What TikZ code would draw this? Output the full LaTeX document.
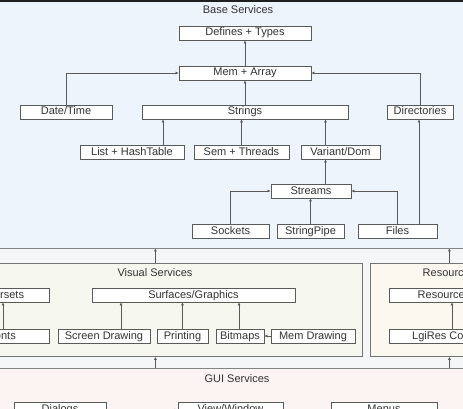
\documentclass[tikz,border=0pt]{standalone}
\usepackage{fontspec}
\setmainfont{Liberation Sans}
\usetikzlibrary{arrows.meta}
\definecolor{basebg}{HTML}{EEF4FB}
\definecolor{midbg}{HTML}{F4F6F7}
\definecolor{guibg}{HTML}{FCF3F3}
\definecolor{visbg}{HTML}{F6F8EF}
\definecolor{resbg}{HTML}{FBF9EF}
\definecolor{edge}{HTML}{5A5A5A}
\definecolor{txt}{HTML}{333333}
\tikzset{
  band/.style={draw=none, inner sep=0pt, anchor=north west},
  bx/.style={draw=edge, fill=white, line width=0.8pt, inner sep=0pt, minimum height=14pt,
    text height=8pt, text depth=2pt, font=\fontsize{11}{13}\selectfont, text=txt},
  grp/.style={draw=edge!85, line width=0.8pt, inner sep=0pt},
  ttl/.style={font=\fontsize{11}{13}\selectfont, text=txt, inner sep=0pt},
  arr/.style={draw=edge, line width=0.8pt, -{Latex[length=3pt,width=3pt]}},
  sep/.style={draw=edge!75, line width=0.9pt}
}
\begin{document}
\begin{tikzpicture}[x=1pt,y=-1pt]
\useasboundingbox (0,0) rectangle (463,409);
\begin{scope}
\clip (0,0) rectangle (463,409);
% bands
\node[band, fill=basebg, minimum width=463pt, minimum height=246pt] (base) at (0,2) {};
\node[band, fill=midbg, minimum width=463pt, minimum height=120pt] (mid) at (0,248) {};
\node[band, fill=guibg, minimum width=463pt, minimum height=41pt] (gui) at (0,368) {};
\fill[black!88] (0,0) rectangle (463,2);
\draw[sep] (base.south west) -- (base.south east);
\draw[sep] (gui.north west) -- (gui.north east);

% Base services
\node[ttl] (tbase) at (238,10) {Base Services};
\node[bx, minimum width=132pt] (def) at (245,33) {Defines + Types};
\node[bx, minimum width=132pt] (mem) at (245,73) {Mem + Array};
\node[bx, minimum width=92pt] (date) at (66,112) {Date/Time};
\node[bx, minimum width=206pt] (str) at (245,112) {Strings};
\node[bx, minimum width=66pt] (dir) at (420,112) {Directories};
\node[bx, minimum width=104pt] (list) at (132,152) {List + HashTable};
\node[bx, minimum width=95pt] (sem) at (241.5,152) {Sem + Threads};
\node[bx, minimum width=79pt] (var) at (340.5,152) {Variant/Dom};
\node[bx, minimum width=80pt] (streams) at (311,191) {Streams};
\node[bx, minimum width=77pt] (sock) at (230.5,231) {Sockets};
\node[bx, minimum width=67pt] (pipe) at (310.5,231) {StringPipe};
\node[bx, minimum width=79pt] (files) at (397.5,231) {Files};

\draw[arr] (mem.north) -- (def.south);
\draw[arr] (str.north) -- (mem.south);
\draw[arr] (date.north) |- (mem.west);
\draw[arr] (dir.north) |- (mem.east);
\draw[arr] ([xshift=31pt]list.north) -- ([xshift=31pt]list.north |- str.south);
\draw[arr] (sem.north) -- (sem.north |- str.south);
\draw[arr] ([xshift=-15pt]var.north) -- ([xshift=-15pt]var.north |- str.south);
\draw[arr] ([xshift=14.5pt]streams.north) -- ([xshift=14.5pt]streams.north |- var.south);
\draw[arr] (sock.north) |- (streams.west);
\draw[arr] (pipe.north) -- (pipe.north |- streams.south);
\draw[arr] (files.north) |- (streams.east);
\draw[arr] ([xshift=21.5pt]files.north) -- ([xshift=21.5pt]files.north |- dir.south);

% Visual services
\node[grp, fill=visbg, minimum width=367pt, minimum height=93pt, anchor=north west] (vis) at (-5,263) {};
\node[ttl] (tvis) at (155,273) {Visual Services};
\node[bx, minimum width=94pt] (chars) at (2,295) {Charsets};
\node[bx, minimum width=94pt] (fonts) at (2,336) {Fonts};
\node[bx, minimum width=203pt] (surf) at (193.5,295) {Surfaces/Graphics};
\node[bx, minimum width=92pt] (scr) at (104,336) {Screen Drawing};
\node[bx, minimum width=51pt] (prt) at (182.5,336) {Printing};
\node[bx, minimum width=48pt] (bmp) at (240,336) {Bitmaps};
\node[bx, minimum width=84pt] (memd) at (313,336) {Mem Drawing};
\draw[arr] ([xshift=1pt]fonts.north) -- ([xshift=1pt]chars.south);
\draw[arr] ([xshift=17pt]scr.north) -- ([xshift=17pt]scr.north |- surf.south);
\draw[arr] (prt.north) -- (prt.north |- surf.south);
\draw[arr] ([xshift=-1pt]bmp.north) -- ([xshift=-1pt]bmp.north |- surf.south);
\draw[arr] (memd.west) -- (bmp.east);

% Resources
\node[grp, fill=resbg, minimum width=100pt, minimum height=93pt, anchor=north west] (rsv) at (370,263) {};
\node[ttl] (trsv) at (449,273) {Resources};
\node[bx, minimum width=110pt] (res) at (444,295) {Resources};
\node[bx, minimum width=110pt] (lgi) at (444,336) {LgiRes Code};
\draw[arr] ([xshift=8pt]lgi.north) -- ([xshift=8pt]res.south);

% layer arrows
\draw[arr] ([xshift=-23.5pt]vis.north) -- ([xshift=-23.5pt]vis.north |- base.south);
\draw[arr] ([xshift=29pt]rsv.north) -- ([xshift=29pt]rsv.north |- base.south);
\draw[arr] ([xshift=-23.5pt]vis.south |- gui.north) -- ([xshift=-23.5pt]vis.south);
\draw[arr] ([xshift=29pt]rsv.south |- gui.north) -- ([xshift=29pt]rsv.south);

% GUI services
\node[ttl] (tgui) at (237,379) {GUI Services};
\node[bx, minimum width=92pt] (dlg) at (60,409) {Dialogs};
\node[bx, minimum width=105pt] (vw) at (230.5,409) {View/Window};
\node[bx, minimum width=106pt] (menus) at (384,409) {Menus};
\draw[arr] ([yshift=-1pt]dlg.east) -- ([yshift=-1pt]vw.west);
\end{scope}
\end{tikzpicture}
\end{document}
